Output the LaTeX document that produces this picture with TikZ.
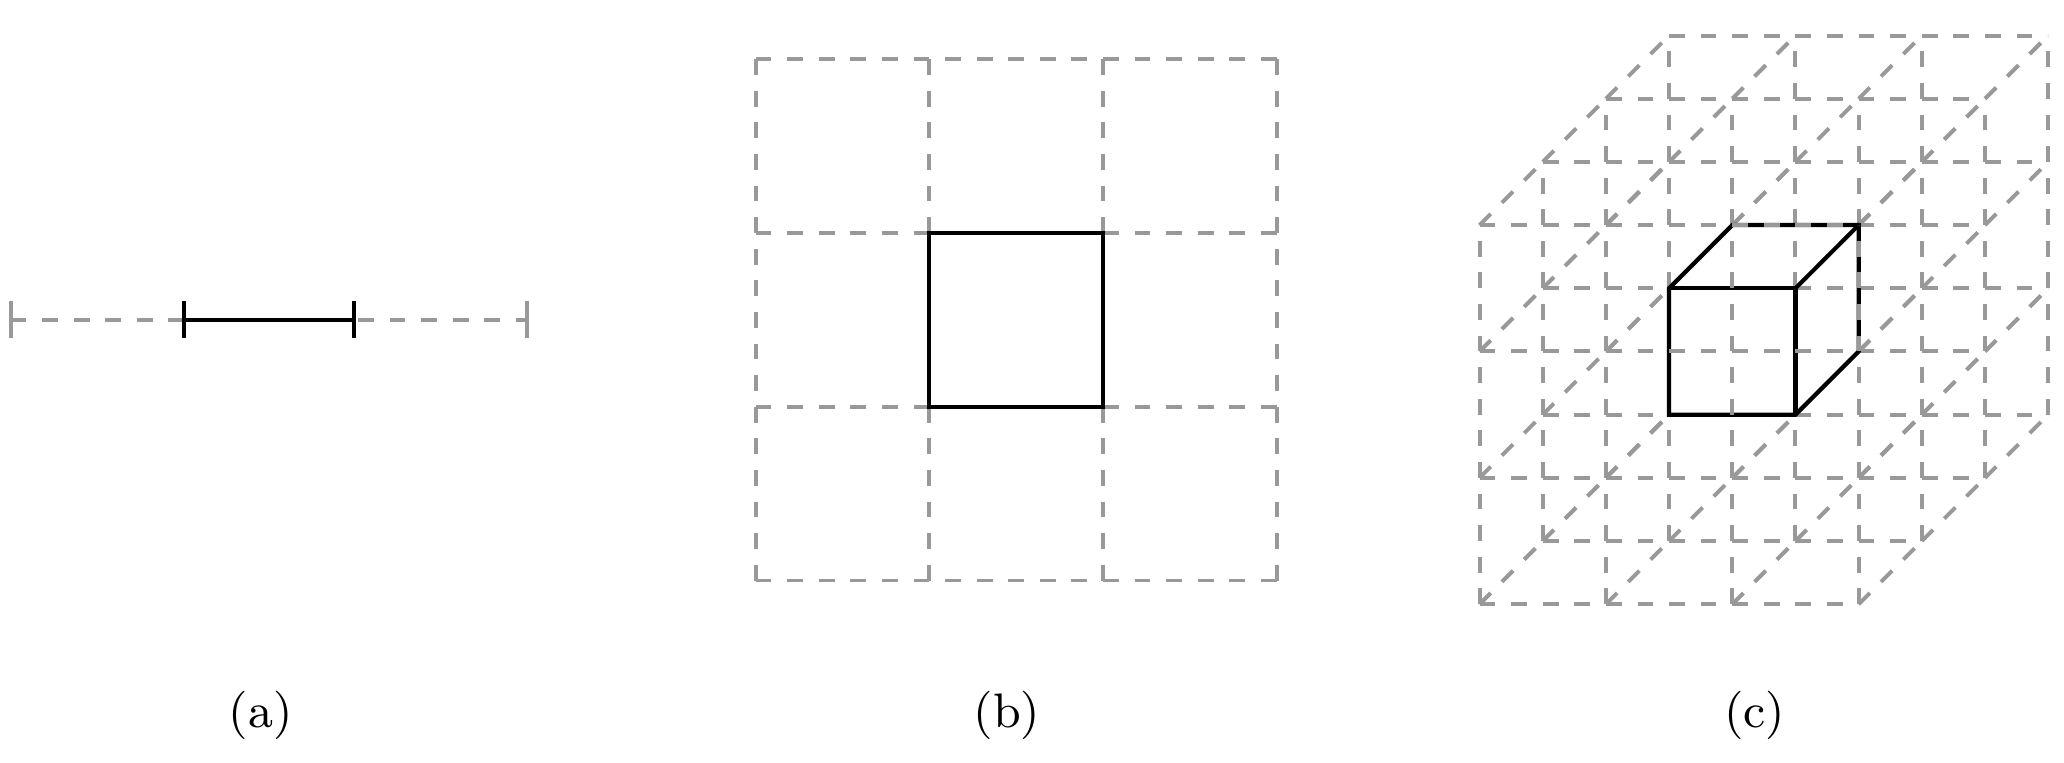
\documentclass[tikz,border=0pt]{standalone}
\begin{document}
\begin{tikzpicture}[x=0.25pt,y=-0.25pt,
  grayline/.style={draw=gray!80, line width=0.75pt, dash pattern=on 3pt off 3pt},
  graytick/.style={draw=gray!80, line width=0.75pt},
  blackline/.style={draw=black, line width=0.8pt},
  lab/.style={anchor=base, inner sep=0pt, font=\fontsize{9.2}{11}\selectfont}]
\useasboundingbox (0,0) rectangle (1568,579);

% ---------- (a) ----------
\coordinate (aL) at (8,243);
\coordinate (aR) at (400,243);
\coordinate (a1) at (140,243);
\coordinate (a2) at (269,243);
\draw[grayline] (aL) -- (aR);
\draw[graytick] (aL) ++(0,-14) -- ++(0,28);
\draw[graytick] (aR) ++(0,-14) -- ++(0,28);
\draw[blackline] (a1) -- (a2);
\draw[blackline] (a1) ++(0,-14) -- ++(0,28);
\draw[blackline] (a2) ++(0,-14) -- ++(0,28);

% ---------- (b) ----------
\foreach \t in {0,1,2,3}{
  \draw[grayline] ({574},{45+132*\t}) -- ({970},{45+132*\t});
  \draw[grayline] ({574+132*\t},{45}) -- ({574+132*\t},{441});
}
\draw[blackline] (706,177) rectangle (838,309);

% ---------- (c) ----------
% point (i,j,k) -> (1124+96i+48k, 459-96j-48k)
\foreach \i in {0,1,2,3}{
  \foreach \j in {0,1,2,3}{
    \foreach \k in {0,1,2}{
      \draw[grayline] ({1124+96*\i+48*\k},{459-96*\j-48*\k}) -- ({1124+96*\i+48*(\k+1)},{459-96*\j-48*(\k+1)});
    }
  }
}
\foreach \k in {3,2,1}{
  \foreach \t in {0,1,2,3}{
    \draw[grayline] ({1124+48*\k},{459-96*\t-48*\k}) -- ({1124+288+48*\k},{459-96*\t-48*\k});
    \draw[grayline] ({1124+96*\t+48*\k},{459-48*\k}) -- ({1124+96*\t+48*\k},{459-288-48*\k});
  }
}
% black cube
\coordinate (c111) at (1268,315);
\coordinate (c211) at (1364,315);
\coordinate (c221) at (1364,219);
\coordinate (c121) at (1268,219);
\coordinate (c212) at (1412,267);
\coordinate (c222) at (1412,171);
\coordinate (c122) at (1316,171);
\fill[white] (c111) -- (c211) -- (c221) -- (c121) -- cycle;
\draw[blackline] (c111) -- (c211) -- (c212) -- (c222) -- (c122) -- (c121) -- cycle;
\draw[blackline] (c121) -- (c221) -- (c211);
\draw[blackline] (c221) -- (c222);
% front layer
\foreach \t in {0,1,2,3}{
  \draw[grayline] ({1124},{459-96*\t}) -- ({1412},{459-96*\t});
  \draw[grayline] ({1124+96*\t},{459}) -- ({1124+96*\t},{171});
}

% ---------- labels ----------
\node[lab] (la) at (198,553) {(a)};
\node[lab] (lb) at (765,553) {(b)};
\node[lab] (lc) at (1333,553) {(c)};
\end{tikzpicture}
\end{document}
